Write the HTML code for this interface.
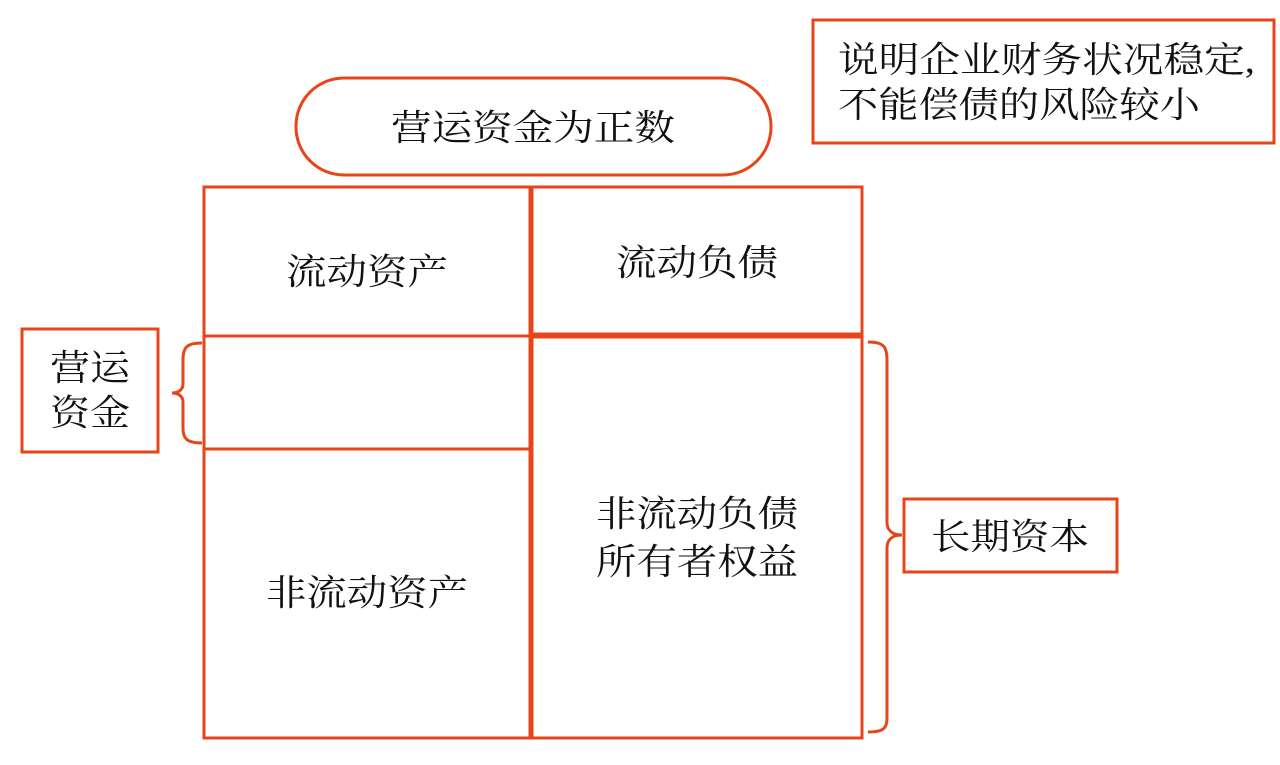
<!DOCTYPE html>
<html><head><meta charset="utf-8"><style>
html,body{margin:0;padding:0;background:#fff;}
svg{display:block;}
text{font-family:"Liberation Serif","Noto Serif CJK SC",serif;font-size:36px;fill:#111;}
</style></head><body>
<svg width="1280" height="765" viewBox="0 0 1280 765" xmlns="http://www.w3.org/2000/svg">
<g fill="none" stroke="#E8441A" stroke-width="3">
<rect x="813" y="20" width="461" height="123"/>
<rect x="296" y="78" width="475" height="97" rx="48" ry="48"/>
<rect x="204" y="187" width="326" height="551"/>
<line x1="204" y1="336" x2="530" y2="336"/>
<line x1="204" y1="449" x2="530" y2="449"/>
<rect x="532" y="187" width="330" height="147"/>
<rect x="532" y="337" width="330" height="401"/>
<rect x="22" y="329" width="136" height="123"/>
<rect x="904" y="499" width="213" height="73"/>
<path d="M202 343 C186 343 183 348 183 360 L183 384 C183 390 178 393 172 393 C178 393 183 396 183 402 L183 428 C183 438 186 443 202 443"/>
<path d="M868 342 C884 342 887 347 887 360 L887 522 C887 530 892 535 902 535 C892 535 887 540 887 548 L887 718 C887 728 884 732 868 732"/>
</g>
<text x="838" y="72" textLength="417" lengthAdjust="spacingAndGlyphs">说明企业财务状况稳定,</text>
<text x="838" y="117" textLength="362" lengthAdjust="spacingAndGlyphs">不能偿债的风险较小</text>
<text x="533" y="140" text-anchor="middle" textLength="284" lengthAdjust="spacingAndGlyphs">营运资金为正数</text>
<text x="367" y="284" text-anchor="middle" textLength="162" lengthAdjust="spacingAndGlyphs">流动资产</text>
<text x="697" y="275" text-anchor="middle" textLength="162" lengthAdjust="spacingAndGlyphs">流动负债</text>
<text x="367" y="605" text-anchor="middle" textLength="202" lengthAdjust="spacingAndGlyphs">非流动资产</text>
<text x="697" y="526" text-anchor="middle" textLength="202" lengthAdjust="spacingAndGlyphs">非流动负债</text>
<text x="697" y="574" text-anchor="middle" textLength="202" lengthAdjust="spacingAndGlyphs">所有者权益</text>
<text x="90" y="380" text-anchor="middle" textLength="80" lengthAdjust="spacingAndGlyphs">营运</text>
<text x="90" y="425" text-anchor="middle" textLength="80" lengthAdjust="spacingAndGlyphs">资金</text>
<text x="1010" y="549" text-anchor="middle" textLength="158" lengthAdjust="spacingAndGlyphs">长期资本</text>
</svg>
</body></html>
